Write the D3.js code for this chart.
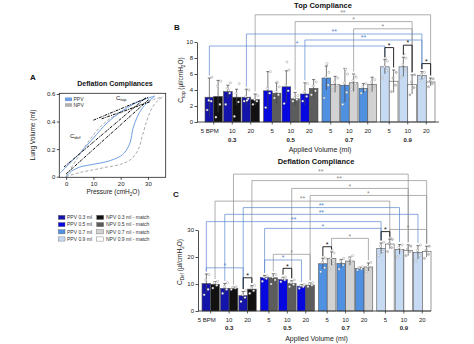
<!DOCTYPE html>
<html><head><meta charset="utf-8">
<script src="https://cdn.jsdelivr.net/npm/d3@7"></script>
<style>body{margin:0;background:#fff}svg{font-family:"Liberation Sans",Arial,sans-serif}</style>
</head><body><svg id="c" width="474" height="344"></svg>
<script>
// ---------- data ----------
const volumes = ["0.3","0.5","0.7","0.9"];
const rates = ["5","10","20"];
const rateLabels = ["5","10","20"];
const firstRateLabel = "5 BPM";
const modes = ["PPV","NPV"];

// Panel B: top compliance (µl/cmH2O)  [volume][rate]
const topPPV = [[3.1,3.8,3.1],[3.9,4.4,3.5],[5.5,4.6,4.2],[6.9,6.9,5.8]];
const topNPV = [[3.2,3.1,2.8],[3.6,2.9,4.2],[4.7,4.9,4.7],[5.1,4.7,5.0]];
const topPPVerr = [[2.4,0.8,1.0],[2.4,2.0,1.4],[1.5,2.1,0.6],[0.9,1.2,0.5]];
const topNPVerr = [[2.0,1.0,0.7],[1.3,0.8,1.1],[1.0,1.1,0.9],[1.4,1.2,0.5]];
const topPPVdots = [
  [[1.5,2.6,2.7,5.6],[2.2,3.6,4.2,4.9,4.0],[2.6,2.9,3.2,4.0,2.7]],
  [[1.8,3.6,4.2,6.3],[2.3,3.9,4.6,6.5,7.5],[2.6,3.2,3.8,4.8]],
  [[3.0,4.6,5.6,6.2,7.3],[2.2,3.7,4.9,6.0,6.6],[3.6,4.0,4.4,4.8]],
  [[5.5,6.4,6.9,7.6,8.0],[5.6,6.6,7.2,8.0,8.5],[5.2,5.6,5.9,6.2]]];
const topNPVdots = [
  [[0.6,2.2,4.5,5.1],[0.7,2.5,3.6,4.8],[2.2,2.6,2.8,3.3]],
  [[3.0,3.4,3.8,4.4,5.0],[2.6,2.8,3.0,3.3],[3.4,3.9,4.5,5.0]],
  [[4.0,4.6,5.0,5.5],[4.1,4.8,5.2,5.6,5.8],[3.9,4.5,5.0,5.3]],
  [[3.8,4.6,5.5,6.2],[3.4,4.3,5.0,5.9],[4.4,4.8,5.1,5.4]]];

// Panel C: deflation compliance
const defPPV = [[10.2,8.4,5.7],[12.4,11.7,9.2],[17.5,17.6,15.8],[23.2,22.8,21.7]];
const defNPV = [[9.9,8.4,8.1],[12.3,10.2,9.6],[19.4,18.5,16.3],[24.8,22.5,22.0]];
const defPPVerr = [[3.5,1.8,1.5],[0.8,0.8,0.6],[2.0,1.5,0.4],[2.0,1.8,2.5]];
const defNPVerr = [[1.0,0.4,1.3],[1.5,1.0,0.8],[2.5,1.5,1.5],[1.8,2.0,2.0]];
const defPPVdots = [
  [[6.0,8.0,11.5,13.5],[6.5,8.0,9.0,10.5],[3.5,5.0,6.0,7.5]],
  [[11.0,12.0,12.5,13.0],[10.8,11.5,12.0,12.5],[8.4,9.0,9.4,9.8]],
  [[14.5,16.0,18.0,19.5,20.0],[15.5,17.0,18.5,19.5],[15.2,15.6,16.0,16.4]],
  [[20.5,22.0,24.0,25.5],[20.0,22.5,23.5,24.5],[18.5,20.5,22.5,24.5]]];
const defNPVdots = [
  [[8.5,9.5,10.5,11.0],[8.0,8.5,8.8,9.0],[6.5,7.5,8.5,9.5]],
  [[10.0,11.5,12.5,13.5],[9.0,9.8,10.5,11.5],[9.0,9.5,10.0,10.5]],
  [[15.5,17.5,19.5,21.5,22.5],[17.0,18.5,19.5,20.5],[14.5,15.5,16.5,18.0]],
  [[22.0,23.5,25.0,26.5,27.0],[20.5,22.0,23.0,24.0],[19.5,21.0,22.5,24.0]]];

// significance brackets: from(vol,rate,mode) to(vol,rate,mode), level (value units), label, kind
const topBrackets = [
  ["0.3","20","NPV","0.9","20","NPV",13.4,"**","npv"],
  ["0.5","10","NPV","0.9","10","NPV",12.55,"*","npv"],
  ["0.7","10","NPV","0.9","10","NPV",11.65,"*","npv"],
  ["0.3","20","PPV","0.9","20","PPV",11.0,"**","ppv"],
  ["0.5","20","PPV","0.9","20","PPV",10.25,"**","ppv"],
  ["0.3","5","PPV","0.9","5","PPV",9.5,"*","ppv"],
  ["0.9","5","PPV","0.9","5","NPV",9.3,"*","pair"],
  ["0.9","10","PPV","0.9","10","NPV",9.6,"*","pair"],
  ["0.9","20","PPV","0.9","20","NPV",7.3,"*","pair"]];
const defBrackets = [
  ["0.3","10","NPV","0.9","10","NPV",50.7,"**","npv"],
  ["0.3","20","NPV","0.9","20","NPV",48.3,"**","npv"],
  ["0.5","10","NPV","0.9","10","NPV",45.4,"*","npv"],
  ["0.5","20","NPV","0.9","20","NPV",42.8,"*","npv"],
  ["0.3","5","NPV","0.9","5","NPV",40.7,"**","npv"],
  ["0.3","20","PPV","0.9","10","PPV",38.3,"**","ppv"],
  ["0.3","10","PPV","0.9","20","PPV",35.8,"**","ppv"],
  ["0.3","5","PPV","0.9","5","PPV",33.1,"**","ppv"],
  ["0.5","5","PPV","0.9","5","PPV",30.6,"*","ppv"],
  ["0.9","5","NPV","0.9","20","NPV",30.2,"*","npv"],
  ["0.9","5","PPV","0.9","5","NPV",29.4,"*","pair"],
  ["0.3","5","PPV","0.3","20","PPV",16.0,"*","ppv"],
  ["0.3","20","PPV","0.3","20","NPV",12.3,"*","pair"],
  ["0.5","5","NPV","0.5","20","NPV",21.0,"*","npv"],
  ["0.5","5","PPV","0.5","20","PPV",18.9,"*","ppv"],
  ["0.5","10","PPV","0.5","10","NPV",15.8,"*","pair"],
  ["0.7","5","NPV","0.7","20","NPV",26.9,"*","npv"],
  ["0.7","5","PPV","0.7","5","NPV",23.8,"*","pair"]];

// Panel A: pressure-volume loops
const ppvDefP = [-2.3,0,5,10,15,20,25,30,32.5];
const ppvDefV = [0.025,0.07,0.17,0.28,0.39,0.47,0.53,0.57,0.585];
const ppvInfP = [0,2,5,10,15,20,22,23.5,24.5,26,28,31,32.5];
const ppvInfV = [0,0.04,0.07,0.09,0.11,0.15,0.19,0.25,0.35,0.43,0.5,0.56,0.585];
const npvInfP = [0,5,10,15,20,24,26.5,28,29.5,31,33,35.5];
const npvInfV = [0,0.03,0.05,0.07,0.09,0.13,0.2,0.3,0.4,0.48,0.54,0.58];
const npvDefP = [0,0.5,4,8,12,16,22,28,32,35.5];
const npvDefV = [0,0.02,0.13,0.25,0.35,0.42,0.48,0.53,0.56,0.58];
const tangentP1 = [-0.8,0,10,13];
const tangentV1 = [0.07,0.02,0.41,0.42];
const tangentP2 = [29.3,30.3,30,31];
const tangentV2 = [0.575,0.56,0.575,0.545];
const pvXTicks = [0,10,20,30];
const pvYTicks = [0,0.2,0.4,0.6];

// ---------- styles ----------
const FONT = '"Liberation Sans", Arial, sans-serif';
const ppvColors = ["#1414aa","#0707e0","#4f90e0","#c6dbf3"];
const npvColors = ["#111111","#5c5c5c","#d2d2d2","#ffffff"];
const bracketColors = {npv:"#8e8e8e", ppv:"#5a86cc", pair:"#111"};
const dotOffsets = [-2.2,1.8,-0.6,2.6,0.6];

const svg = d3.select("#c");

function rich(sel, parts, size){
  parts.forEach(([t,sub])=>{
    sel.append("tspan").attr("font-size", sub? size*0.72 : size)
      .attr("baseline-shift", sub? "-30%": null).text(t);
  });
}
function styleAxis(s, fs){
  s.selectAll("text").attr("font-size",fs).attr("font-family",FONT).attr("fill","#222");
  s.selectAll("path,line").attr("stroke","#222").attr("stroke-width",0.8);
}

// ---------- bar panels ----------
function drawBarPanel(o){
  const g = svg.append("g");
  const y = d3.scaleLinear().domain(o.yDomain).range(o.yRange);
  const xG = d3.scaleBand().domain(volumes).range(o.xRange);
  const xR = d3.scaleBand().domain(rates).range([0,xG.bandwidth()]).paddingOuter(0.08);
  const xM = d3.scaleBand().domain(modes).range([0,xR.bandwidth()]).paddingOuter(0.06);
  const bw = xM.bandwidth();
  const barX = (v,r,m)=> xG(v)+xR(r)+xM(m);
  const cx = (v,r,m)=> barX(v,r,m)+bw/2;
  const recs = [];
  volumes.forEach((v,vi)=>rates.forEach((r,ri)=>modes.forEach(m=>{
    const P = m==="PPV";
    recs.push({v,vi,r,ri,m,
      val:(P?o.ppv:o.npv)[vi][ri], err:(P?o.ppvErr:o.npvErr)[vi][ri],
      dots:(P?o.ppvDots:o.npvDots)[vi][ri],
      color:(P?ppvColors:npvColors)[vi]});
  })));
  const rec = (v,r,m)=> recs.find(d=>d.v===v&&d.r===r&&d.m===m);

  // bars
  g.selectAll("rect.bar").data(recs).join("rect")
    .attr("x",d=>barX(d.v,d.r,d.m)).attr("width",bw)
    .attr("y",d=>y(d.val)).attr("height",d=>y(0)-y(d.val))
    .attr("fill",d=>d.color).attr("stroke","#555").attr("stroke-width",0.6);
  // error bars
  const eg = g.append("g").attr("stroke","#444").attr("stroke-width",0.7);
  recs.forEach(d=>{
    const x = cx(d.v,d.r,d.m);
    eg.append("line").attr("x1",x).attr("x2",x)
      .attr("y1",y(Math.max(0,d.val-d.err))).attr("y2",y(d.val+d.err));
    eg.append("line").attr("x1",x-1.6).attr("x2",x+1.6)
      .attr("y1",y(d.val+d.err)).attr("y2",y(d.val+d.err));
  });
  // dots
  recs.forEach(d=>{
    const x = cx(d.v,d.r,d.m);
    g.selectAll(null).data(d.dots).join("circle")
      .attr("cx",(v,i)=>x+dotOffsets[i%5]).attr("cy",v=>y(v)).attr("r",1.1)
      .attr("fill",d.vi===3&&d.m==="NPV"?"#ccc":"#fff").attr("stroke","#777").attr("stroke-width",0.35);
  });

  // y axis
  g.append("g").attr("transform",`translate(${o.axisX},0)`)
    .call(d3.axisLeft(y).tickValues(o.yTicks).tickSize(2.5).tickSizeOuter(0).tickPadding(1.5))
    .call(s=>styleAxis(s,6));
  // x baseline + ticks
  g.append("line").attr("x1",o.axisX).attr("x2",o.xEnd).attr("y1",y(0)).attr("y2",y(0))
    .attr("stroke","#222").attr("stroke-width",0.8);
  volumes.forEach((v,vi)=>rates.forEach((r,ri)=>{
    const x = xG(v)+xR(r)+xR.bandwidth()/2;
    const first = vi===0 && ri===0;
    g.append("line").attr("x1",x).attr("x2",x).attr("y1",y(0)).attr("y2",y(0)+2.5)
      .attr("stroke","#222").attr("stroke-width",0.7);
    g.append("text").attr("x",x + (first? -4:0)).attr("y",o.labelY)
      .attr("text-anchor","middle").attr("font-size",6).attr("fill","#222")
      .text(first? firstRateLabel : rateLabels[ri]);
  }));
  volumes.forEach(v=>{
    g.append("text").attr("x",xG(v)+xG.bandwidth()/2).attr("y",o.groupY)
      .attr("text-anchor","middle").attr("font-size",6).attr("font-weight","bold").attr("fill","#222").text(v);
  });
  g.append("text").attr("x",(o.xRange[0]+o.xRange[1])/2).attr("y",o.axisTitleY)
    .attr("text-anchor","middle").attr("font-size",7).attr("fill","#222").text("Applied Volume (ml)");
  const yl = g.append("text").attr("transform",`translate(${o.yLabelX},${o.yLabelY}) rotate(-90)`)
    .attr("text-anchor","middle").attr("fill","#222");
  rich(yl, [["C",0],[o.sub,1],[" (µl/cmH",0],["2",1],["O)",0]], 6.5);

  // title & letter
  g.append("text").attr("x",o.titleX).attr("y",o.titleY).attr("text-anchor","middle")
    .attr("font-size",7.5).attr("font-weight","bold").attr("fill","#111").text(o.title);
  g.append("text").attr("x",o.letterX).attr("y",o.letterY).attr("text-anchor","middle")
    .attr("font-size",8).attr("font-weight","bold").attr("fill","#111").text(o.letter);

  // brackets
  o.brackets.forEach(b=>{
    const a = rec(b[0],b[1],b[2]), c = rec(b[3],b[4],b[5]);
    const x1 = cx(b[0],b[1],b[2]), x2 = cx(b[3],b[4],b[5]);
    const ly = y(b[6]);
    const col = bracketColors[b[8]];
    const y1 = y(a.val+a.err)-2.5, y2 = y(c.val+c.err)-2.5;
    g.append("path").attr("d",`M${x1},${Math.max(y1,ly)}V${ly}H${x2}V${Math.max(y2,ly)}`)
      .attr("fill","none").attr("stroke",col).attr("stroke-width",b[8]==="pair"?0.9:0.7);
    g.append("text").attr("x",(x1+x2)/2).attr("y",ly+0.2).attr("text-anchor","middle")
      .attr("font-size",7).attr("fill",col).text(b[7]);
  });
}

drawBarPanel({
  ppv:topPPV, npv:topNPV, ppvErr:topPPVerr, npvErr:topNPVerr, ppvDots:topPPVdots, npvDots:topNPVdots,
  yDomain:[0,10], yRange:[122,42], yTicks:[0,2,4,6,8,10], xRange:[203,437], axisX:197, xEnd:439,
  labelY:133, groupY:141.5, axisTitleY:152, yLabelX:183, yLabelY:80, sub:"top",
  title:"Top Compliance", titleX:323, titleY:7.8, letter:"B", letterX:177, letterY:30,
  brackets:topBrackets
});
drawBarPanel({
  ppv:defPPV, npv:defNPV, ppvErr:defPPVerr, npvErr:defNPVerr, ppvDots:defPPVdots, npvDots:defNPVdots,
  yDomain:[0,30], yRange:[311,230], yTicks:[0,10,20,30], xRange:[200,433], axisX:198, xEnd:431,
  labelY:321.5, groupY:330, axisTitleY:341, yLabelX:182, yLabelY:262, sub:"Def",
  title:"Deflation Compliance", titleX:316, titleY:163.5, letter:"C", letterX:176, letterY:197,
  brackets:defBrackets
});

// ---------- panel A ----------
(function(){
  const g = svg.append("g");
  const ax = d3.scaleLinear().domain([-2.5,36.5]).range([59.3,165.7]);
  const ay = d3.scaleLinear().domain([0,0.6]).range([176.7,94]);
  const top = 93.3, bot = 177.3;
  g.append("defs").append("clipPath").attr("id","pvclip").append("rect")
    .attr("x",ax(-2.5)).attr("y",top).attr("width",ax(36.5)-ax(-2.5)).attr("height",bot-top);
  const pl = g.append("g").attr("clip-path","url(#pvclip)");
  const line = d3.line().x(d=>ax(d[0])).y(d=>ay(d[1])).curve(d3.curveCatmullRom);
  const zip = (P,V)=>P.map((p,i)=>[p,V[i]]);
  pl.append("path").attr("d",line(zip(npvInfP,npvInfV))).attr("fill","none")
    .attr("stroke","#a9a9a9").attr("stroke-width",1).attr("stroke-dasharray","3,2");
  pl.append("path").attr("d",line(zip(npvDefP,npvDefV))).attr("fill","none")
    .attr("stroke","#a9a9a9").attr("stroke-width",1).attr("stroke-dasharray","3,2");
  pl.append("path").attr("d",line(zip(ppvInfP,ppvInfV))).attr("fill","none")
    .attr("stroke","#6f9fe2").attr("stroke-width",1);
  pl.append("path").attr("d",line(zip(ppvDefP,ppvDefV))).attr("fill","none")
    .attr("stroke","#6f9fe2").attr("stroke-width",1);
  tangentP1.forEach((p,i)=>{
    pl.append("line").attr("x1",ax(p)).attr("y1",ay(tangentV1[i]))
      .attr("x2",ax(tangentP2[i])).attr("y2",ay(tangentV2[i]))
      .attr("stroke","#111").attr("stroke-width",1).attr("stroke-dasharray","3,1,1,1");
  });
  // frame & axes
  g.append("rect").attr("x",ax(-2.5)).attr("y",top).attr("width",ax(36.5)-ax(-2.5)).attr("height",bot-top)
    .attr("fill","none").attr("stroke","#222").attr("stroke-width",0.8);
  g.append("g").attr("transform",`translate(${ax(-2.5)},0)`)
    .call(d3.axisLeft(ay).tickValues(pvYTicks).tickFormat(d=>d===0?"0":d3.format(".1f")(d)).tickSize(2.5).tickSizeOuter(0).tickPadding(1.5))
    .call(s=>{styleAxis(s,6); s.select(".domain").remove();});
  g.append("g").attr("transform",`translate(0,${bot})`)
    .call(d3.axisBottom(ax).tickValues(pvXTicks).tickSize(2.5).tickSizeOuter(0).tickPadding(1.5))
    .call(s=>{styleAxis(s,6); s.select(".domain").remove();});
  g.append("text").attr("transform",`translate(35,135) rotate(-90)`).attr("text-anchor","middle")
    .attr("font-size",6.5).attr("fill","#222").text("Lung Volume (ml)");
  const xl = g.append("text").attr("x",113).attr("y",194).attr("text-anchor","middle").attr("fill","#222");
  rich(xl, [["Pressure (cmH",0],["2",1],["O)",0]], 6.5);
  g.append("text").attr("x",115).attr("y",85.5).attr("text-anchor","middle")
    .attr("font-size",7).attr("font-weight","bold").attr("fill","#111").text("Deflation Compliances");
  g.append("text").attr("x",33).attr("y",79.5).attr("text-anchor","middle")
    .attr("font-size",8).attr("font-weight","bold").attr("fill","#111").text("A");
  // legend
  [["PPV","#6f9fe2"],["NPV","#b0b0b0"]].forEach(([t,c],i)=>{
    g.append("rect").attr("x",65).attr("y",97.5+i*5.7).attr("width",7).attr("height",3.6).attr("fill",c);
    g.append("text").attr("x",73.5).attr("y",101+i*5.7).attr("font-size",5).attr("fill","#333").text(t);
  });
  const l1 = g.append("text").attr("x",116).attr("y",100).attr("fill","#111");
  rich(l1, [["C",0],["top",1]], 6);
  const l2 = g.append("text").attr("x",70).attr("y",137.5).attr("fill","#111");
  rich(l2, [["C",0],["def",1]], 6);
})();

// ---------- bottom-left legend ----------
volumes.forEach((v,i)=>{
  const yy = 217.5 + i*7.2;
  svg.append("rect").attr("x",58.3).attr("y",yy-2.2).attr("width",6.7).attr("height",4.2)
    .attr("fill",ppvColors[i]).attr("stroke","#666").attr("stroke-width",0.4);
  svg.append("text").attr("x",67).attr("y",yy+1.7).attr("font-size",5).attr("fill","#333").text(`PPV ${v} ml`);
  svg.append("rect").attr("x",96.7).attr("y",yy-2.2).attr("width",7).attr("height",4.2)
    .attr("fill",npvColors[i]).attr("stroke","#666").attr("stroke-width",0.4);
  svg.append("text").attr("x",106).attr("y",yy+1.7).attr("font-size",5).attr("fill","#333").text(`NPV ${v} ml - match`);
});
</script></body></html>
